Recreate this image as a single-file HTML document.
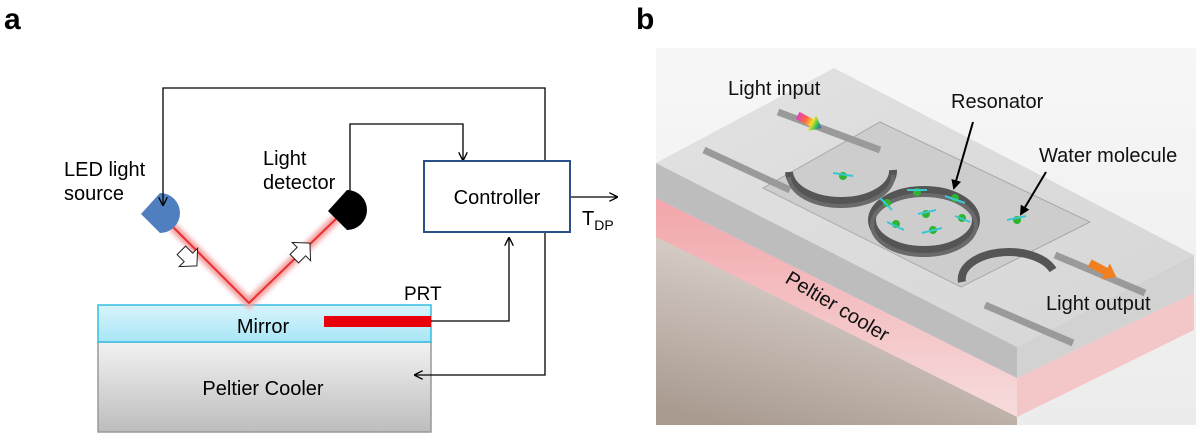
<!DOCTYPE html>
<html><head><meta charset="utf-8"><style>
body{margin:0;background:#fff;width:1200px;height:442px;overflow:hidden;font-family:"Liberation Sans",sans-serif}
</style></head><body>
<svg width="1200" height="442" viewBox="0 0 1200 442" xmlns="http://www.w3.org/2000/svg" font-family="Liberation Sans, sans-serif">
<defs>
<linearGradient id="pc" x1="0" y1="0" x2="0" y2="1"><stop offset="0" stop-color="#f2f2f2"/><stop offset="1" stop-color="#bdbdbd"/></linearGradient>
<linearGradient id="mr" x1="0" y1="0" x2="0" y2="1"><stop offset="0" stop-color="#d8f4fb"/><stop offset="1" stop-color="#a8e6f6"/></linearGradient>
<linearGradient id="bg" x1="0" y1="0" x2="0" y2="1"><stop offset="0" stop-color="#f7f7f7"/><stop offset="1" stop-color="#ececec"/></linearGradient>
<linearGradient id="brown" x1="0.6" y1="0" x2="0.2" y2="1"><stop offset="0" stop-color="#ede6e3"/><stop offset="1" stop-color="#a99b90"/></linearGradient>
<linearGradient id="pink" x1="0" y1="0" x2="0" y2="1"><stop offset="0" stop-color="#f2a6aa"/><stop offset="1" stop-color="#f6dcdc"/></linearGradient>
<linearGradient id="top" x1="0" y1="0" x2="1" y2="1"><stop offset="0" stop-color="#e2e2e2"/><stop offset="1" stop-color="#d6d6d6"/></linearGradient>
<linearGradient id="rb" x1="0" y1="0" x2="1" y2="0"><stop offset="0" stop-color="#e040c0"/><stop offset="0.35" stop-color="#ff6a3a"/><stop offset="0.6" stop-color="#f0e030"/><stop offset="0.8" stop-color="#30c050"/><stop offset="1" stop-color="#4050e0"/></linearGradient>
<filter id="gl" x="-20%" y="-20%" width="140%" height="140%"><feGaussianBlur stdDeviation="2.5"/></filter>
<filter id="bl" x="-5%" y="-5%" width="110%" height="110%"><feGaussianBlur stdDeviation="4"/></filter>
<marker id="ah" viewBox="0 0 10 10" refX="9" refY="5" markerWidth="7" markerHeight="7" orient="auto"><path d="M0,0 L10,5 L0,10" fill="none" stroke="#000" stroke-width="1.5"/></marker>
<marker id="ahb" viewBox="0 0 10 10" refX="8" refY="5" markerWidth="5" markerHeight="5" orient="auto"><path d="M0,0 L10,5 L0,10 z" fill="#000"/></marker>
</defs>
<text x="4" y="29" font-size="30" font-weight="bold">a</text>
<text x="636" y="29" font-size="30" font-weight="bold">b</text>

<!-- panel a -->
<rect x="98" y="342" width="333" height="90" fill="url(#pc)" stroke="#999" stroke-width="1.5"/>
<rect x="98" y="305" width="333" height="37" fill="url(#mr)" stroke="#33bde0" stroke-width="1.5"/>
<text x="263" y="333" font-size="20" text-anchor="middle">Mirror</text>
<text x="263" y="395" font-size="20" text-anchor="middle">Peltier Cooler</text>
<rect x="324" y="316" width="107" height="11" fill="#e8000a"/>
<text x="404" y="300" font-size="19">PRT</text>
<polyline points="172,226 249,303 338,217" fill="none" stroke="#f4a0a0" stroke-width="9" filter="url(#gl)"/>
<polyline points="172,226 249,303 338,217" fill="none" stroke="#e83030" stroke-width="2"/>
<g fill="#fff" stroke="#222" stroke-width="1">
<path d="M0,-6 L10,-6 L10,-13 L22,0 L10,13 L10,6 L0,6 z" transform="translate(187,256) rotate(45) translate(-8,0)"/>
<path d="M0,-6 L10,-6 L10,-13 L22,0 L10,13 L10,6 L0,6 z" transform="translate(300,253) rotate(-45) translate(-8,0)"/>
</g>
<path d="M160,193 A20,20 0 1 1 160,233 L141,214 z" fill="#4f7fbf"/>
<path d="M347,190 A20,20 0 1 1 347,230 L328,211 z" fill="#000"/>
<text x="64" y="176" font-size="20">LED light</text>
<text x="64" y="200" font-size="20">source</text>
<text x="263" y="165" font-size="20">Light</text>
<text x="263" y="189" font-size="20">detector</text>
<g fill="none" stroke="#000" stroke-width="1.3">
<polyline points="545,161 545,88 163,88 163,205" marker-end="url(#ah)"/>
<polyline points="350,195 350,124 463,124 463,160" marker-end="url(#ah)"/>
<polyline points="431,321 509,321 509,238" marker-end="url(#ah)"/>
<polyline points="545,232 545,375 415,375" marker-end="url(#ah)"/>
<line x1="570" y1="197" x2="617" y2="197" marker-end="url(#ah)"/>
</g>
<rect x="424" y="161" width="146" height="71" fill="#fff" stroke="#2c4f8a" stroke-width="2"/>
<text x="497" y="204" font-size="20" text-anchor="middle">Controller</text>
<text x="582" y="225" font-size="20">T<tspan font-size="14" dy="5">DP</tspan></text>

<!-- panel b -->
<rect x="656" y="48" width="540" height="377" fill="url(#bg)"/>
<polygon points="656,200 1017,400 1017,425 656,425" fill="url(#brown)"/>
<polygon points="656,198 1017,378 1017,417 656,237" fill="url(#pink)"/>
<polygon points="1017,378 1194,293 1194,330 1017,417" fill="#f3c6c8"/>
<polygon points="656,163 1017,347 1017,378 656,198" fill="#bdbdbd"/>
<polygon points="1017,347 1194,255 1194,293 1017,378" fill="#d2d2d2"/>
<polygon points="656,163 834,68 1194,255 1017,347" fill="url(#top)"/>
<polygon points="763,188 880,122 1090,222 961,287" fill="#cdcdcd" stroke="#a8a8a8"/>
<!-- waveguides -->
<g stroke="#9a9a9a" stroke-width="7" stroke-linecap="butt">
<line x1="778" y1="112" x2="880" y2="150"/>
<line x1="704" y1="150" x2="790" y2="190"/>
<line x1="1055" y1="255" x2="1145" y2="293"/>
<line x1="985" y1="305" x2="1073" y2="343"/>
</g>
<g fill="none" stroke="#555" stroke-width="8">
<path d="M789,172 A52,30 0 0 0 893,170"/>
<ellipse cx="924" cy="220" rx="52" ry="30"/>
<path d="M962,282 A47,27 0 0 1 1053,270"/>
</g>
<g fill="none" stroke="#6a6a6a" stroke-width="4">
<ellipse cx="924" cy="225" rx="52" ry="30"/>
<path d="M789,177 A52,30 0 0 0 893,175"/>
</g>
<g fill="#2fb52f">
<circle cx="843" cy="176" r="4"/><circle cx="917" cy="192" r="4"/><circle cx="955" cy="198" r="4"/><circle cx="887" cy="203" r="4"/>
<circle cx="926" cy="214" r="4"/><circle cx="962" cy="218" r="4"/><circle cx="896" cy="224" r="4"/><circle cx="933" cy="230" r="4"/><circle cx="1017" cy="220" r="4"/>
</g>
<g stroke="#3ac8d0" stroke-width="2">
<line x1="833" y1="173" x2="853" y2="176"/><line x1="907" y1="190" x2="927" y2="190"/><line x1="945" y1="196" x2="965" y2="203"/><line x1="880" y1="198" x2="892" y2="210"/>
<line x1="918" y1="214" x2="936" y2="210"/><line x1="955" y1="216" x2="970" y2="222"/><line x1="887" y1="222" x2="904" y2="230"/><line x1="922" y1="233" x2="942" y2="228"/><line x1="1007" y1="220" x2="1026" y2="216"/>
</g>
<polygon points="796,118 812,118 812,113 823,122 812,131 812,126 796,126" fill="url(#rb)" transform="rotate(28 810 122)"/>
<polygon points="1088,266 1106,266 1106,261 1118,270 1106,279 1106,274 1088,274" fill="#f08020" transform="rotate(28 1103 270)"/>
<g fill="none" stroke="#000" stroke-width="2">
<line x1="973" y1="122" x2="954" y2="188" marker-end="url(#ahb)"/>
<line x1="1046" y1="172" x2="1021" y2="214" marker-end="url(#ahb)"/>
</g>
<g font-size="20" fill="#111">
<text x="728" y="95">Light input</text>
<text x="951" y="108">Resonator</text>
<text x="1039" y="162">Water molecule</text>
<text x="1046" y="310">Light output</text>
<text x="784" y="282" transform="rotate(31 784 282)">Peltier cooler</text>
</g>
</svg>
</body></html>
